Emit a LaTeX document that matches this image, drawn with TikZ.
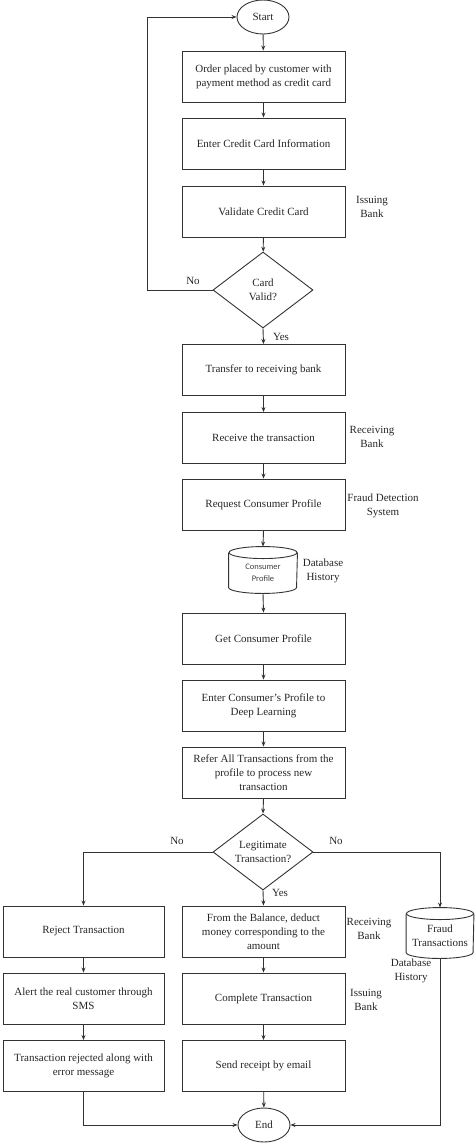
\documentclass[tikz,border=0pt]{standalone}
\usepackage{fontspec}
\setmainfont{Liberation Serif}
\newfontfamily\cylfont{Carlito}
\usetikzlibrary{shapes.geometric,arrows.meta,calc}
\begin{document}
\begin{tikzpicture}[x=1pt,y=-1pt,
  line width=0.9pt,
  every node/.style={text=black!85, font=\fontsize{11}{14}\selectfont},
  box/.style={draw=black!80, rectangle, minimum width=163, minimum height=51, align=center, inner sep=1pt},
  lbox/.style={box, minimum width=161},
  dec/.style={draw=black!80, diamond, minimum width=100, minimum height=76, aspect=1.32, inner sep=0pt, align=center},
  term/.style={draw=black!80, ellipse, minimum width=52, minimum height=34, inner sep=0pt},
  side/.style={align=center, inner sep=0pt},
  arr/.style={draw=black!80, -{Stealth[length=5pt,width=4pt]}},
  ln/.style={draw=black!80}
]
\useasboundingbox (0,0) rectangle (474,1143);

% main column
\node[term] (start) at (263,17) {Start};
\node[box] (b1) at (263.5,76.5) {Order placed by customer with\\payment method as credit card};
\node[box] (b2) at (263.5,143.5) {Enter Credit Card Information};
\node[box] (b3) at (263.5,211.5) {Validate Credit Card};
\node[dec] (d1) at (263,290) {Card\\Valid?};
\node[box] (b4) at (263.5,370) {Transfer to receiving bank};
\node[box] (b5) at (263.5,438) {Receive the transaction};
\node[box] (b6) at (263.5,504.5) {Request Consumer Profile};
\node[minimum width=68, minimum height=46, inner sep=0pt] (cp) at (263,570) {};
\node[font=\cylfont\fontsize{8.5}{12.5}\selectfont, align=center, text=black!75] (cpt) at (263,573) {Consumer\\Profile};
\node[box] (b7) at (263.5,638.5) {Get Consumer Profile};
\node[box] (b8) at (263.5,705.5) {Enter Consumer’s Profile to\\Deep Learning};
\node[box] (b9) at (263.5,772.5) {Refer All Transactions from the\\profile to process new\\transaction};
\node[dec] (d2) at (263,852) {Legitimate\\Transaction?};

% bottom columns
\node[lbox] (r1) at (83.5,931.5) {Reject Transaction};
\node[lbox] (r2) at (83.5,998.5) {Alert the real customer through\\SMS};
\node[lbox] (r3) at (83.5,1066) {Transaction rejected along with\\error message};
\node[box] (m1) at (263.5,931.5) {From the Balance, deduct\\money corresponding to the\\amount};
\node[box] (m2) at (263.5,998.5) {Complete Transaction};
\node[box] (m3) at (263.5,1066) {Send receipt by email};
\node[minimum width=67, minimum height=50, inner sep=0pt] (fr) at (440,933) {};
\node[align=center] (frt) at (440,936) {Fraud\\Transactions};
\node[term] (end) at (264,1125) {End};

% cylinders
\draw[ln] ($(cp.north)+(0,6)$) ellipse [x radius=34pt, y radius=6pt];
\draw[ln] ($(cp.north west)+(0,6)$) -- ($(cp.south west)+(0,-6)$) arc[start angle=180, end angle=360, x radius=34pt, y radius=6pt] -- ($(cp.north east)+(0,6)$);
\draw[ln] ($(fr.north)+(0,6)$) ellipse [x radius=33.5pt, y radius=6pt];
\draw[ln] ($(fr.north west)+(0,6)$) -- ($(fr.south west)+(0,-6)$) arc[start angle=180, end angle=360, x radius=33.5pt, y radius=6pt] -- ($(fr.north east)+(0,6)$);

% side labels
\node[side] (l1) at (372,207) {Issuing\\Bank};
\node[side] (l2) at (372,437) {Receiving\\Bank};
\node[side] (l3) at (383,506) {Fraud Detection\\System};
\node[side] (l4) at (323,571) {Database\\History};
\node[side] (l5) at (369,929) {Receiving\\Bank};
\node[side] (l6) at (366,1000) {Issuing\\Bank};
\node[side] (l7) at (411,971) {Database\\History};

% connectors
\draw[arr] (start) -- (b1);
\draw[arr] (b1) -- (b2);
\draw[arr] (b2) -- (b3);
\draw[arr] (b3) -- (d1);
\coordinate (loopL) at (147,290);
\draw[arr] (d1.west) -- (loopL) |- (start.west);
\node[side] (no1) at (193,281) {No};
\draw[arr] (d1.south) -- (b4.north);
\node[side] (yes1) at (281,337) {Yes};
\draw[arr] (b4) -- (b5);
\draw[arr] (b5) -- (b6);
\draw[arr] (b6.south) -- (cp.north);
\draw[arr] (cp.south) -- (b7.north);
\draw[arr] (b7) -- (b8);
\draw[arr] (b8) -- (b9);
\draw[arr] (b9.south) -- (d2.north);
\draw[arr] (d2.west) -| (r1.north);
\node[side] (no2) at (177,841) {No};
\draw[arr] (d2.east) -| (fr.north);
\node[side] (no3) at (336,841) {No};
\draw[arr] (d2.south) -- (m1.north);
\node[side] (yes2) at (280,893) {Yes};
\draw[arr] (r1) -- (r2);
\draw[arr] (r2) -- (r3);
\draw[arr] (m1) -- (m2);
\draw[arr] (m2) -- (m3);
\draw[arr] (m3) -- (end);
\draw[arr] (r3.south) |- (end.west);
\draw[arr] (fr.south) |- (end.east);
\end{tikzpicture}
\end{document}
